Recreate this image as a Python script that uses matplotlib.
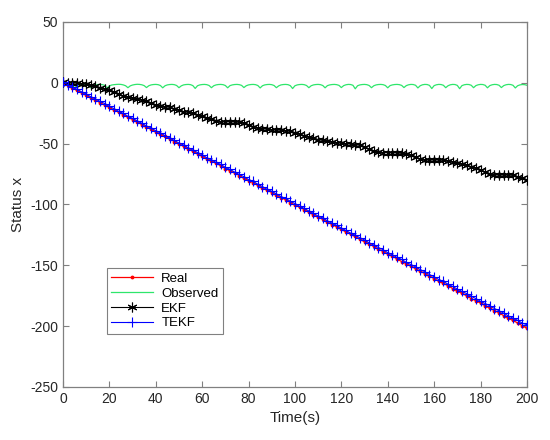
import matplotlib
matplotlib.use("Agg")
import matplotlib.pyplot as plt

plt.rcParams['font.family'] = ['Liberation Sans', 'DejaVu Sans']
plt.rcParams['axes.unicode_minus'] = False

# time axis (coarse series every 2 s, observed every 1 s)
t = list(range(0, 201, 2))
t_obs = list(range(0, 201))

real = [
    0, -2.1, -4.3, -6.2, -8.0, -10.3, -12.2, -14.1, -16.4, -18.2,
    -20.1, -22.4, -24.2, -26.1, -28.3, -30.2, -32.0, -34.4, -36.3, -38.1,
    -40.2, -42.4, -44.1, -46.0, -48.3, -50.4, -52.2, -54.1, -56.3, -58.2,
    -60.1, -62.4, -64.3, -66.1, -68.2, -70.5, -72.3, -74.1, -76.2, -78.4,
    -80.3, -82.1, -84.2, -86.5, -88.3, -90.2, -92.4, -94.3, -96.1, -98.4,
    -100.5, -102.3, -104.2, -106.4, -108.6, -110.4, -112.2, -114.5, -116.6, -118.3,
    -120.4, -122.7, -124.5, -126.3, -128.6, -130.7, -132.5, -134.4, -136.7, -138.8,
    -140.6, -142.5, -144.8, -146.9, -148.7, -150.6, -152.9, -155.0, -156.8, -158.7,
    -161.0, -163.1, -164.9, -166.8, -169.1, -171.2, -173.0, -175.1, -177.3, -179.1,
    -181.0, -183.3, -185.4, -187.2, -189.1, -191.4, -193.5, -195.3, -197.4, -199.6,
    -201.7,
]

tekf = [
    0.5, -1.4, -3.6, -5.3, -7.4, -9.1, -11.5, -13.2, -15.3, -17.0,
    -19.4, -21.2, -23.5, -25.0, -27.6, -29.1, -31.3, -33.2, -35.5, -37.0,
    -39.4, -41.1, -43.5, -45.2, -47.3, -49.5, -51.1, -53.4, -55.2, -57.3,
    -59.0, -61.6, -63.2, -65.4, -67.0, -69.5, -71.1, -73.4, -75.3, -77.1,
    -79.5, -81.0, -83.4, -85.3, -87.5, -89.1, -91.3, -93.5, -95.0, -97.4,
    -99.2, -101.5, -103.1, -105.4, -107.2, -109.6, -111.0, -113.5, -115.3, -117.1,
    -119.5, -121.3, -123.6, -125.2, -127.4, -129.1, -131.6, -133.3, -135.4, -137.2,
    -139.6, -141.3, -143.5, -145.1, -147.6, -149.4, -151.2, -153.5, -155.3, -157.6,
    -159.4, -161.7, -163.2, -165.5, -167.3, -169.6, -171.4, -173.2, -175.5, -177.3,
    -179.6, -181.4, -183.2, -185.5, -187.4, -189.3, -191.6, -193.4, -195.2, -197.5,
    -198.8,
]

ekf = [
    0.5, 0.2, -0.3, -0.2, -0.6, -1.2, -2.0, -2.8, -3.9, -5.0,
    -5.8, -7.4, -9.0, -10.8, -12.0, -12.6, -13.0, -13.8, -15.2, -16.9,
    -18.2, -19.0, -19.6, -20.2, -21.2, -22.5, -23.6, -24.3, -25.0, -26.2,
    -27.5, -28.6, -29.8, -31.0, -31.8, -32.1, -32.0, -32.2, -32.4, -33.0,
    -34.4, -35.9, -37.0, -37.7, -38.2, -38.5, -38.8, -39.0, -39.3, -39.9,
    -40.9, -42.2, -43.4, -44.3, -45.6, -46.6, -47.4, -48.1, -48.6, -49.2,
    -49.6, -50.0, -50.4, -50.8, -51.4, -53.0, -54.6, -56.0, -57.0, -57.3,
    -57.3, -57.4, -57.6, -58.0, -58.7, -59.7, -61.2, -62.6, -63.3, -63.5,
    -63.4, -63.5, -63.6, -64.0, -64.8, -65.8, -66.8, -67.8, -68.9, -70.2,
    -71.6, -73.2, -74.6, -75.6, -75.9, -75.8, -75.8, -76.1, -77.0, -78.4,
    -79.8,
]

observed = [
    0, -0.8, -1.5, -1.9, -2.6, -4.0,
    -2.4, -1.7, -1.4, -1.3, -1.5, -2.2, -4.1,
    -2.3, -1.7, -1.4, -1.3, -1.5, -2.1, -4.2,
    -2.5, -1.8, -1.5, -1.3, -1.2, -1.3, -1.7, -2.4, -4.0,
    -2.5, -1.8, -1.4, -1.2, -1.3, -1.6, -2.3, -3.9,
    -2.4, -1.7, -1.4, -1.3, -1.5, -2.2, -4.1,
    -2.4, -1.7, -1.4, -1.3, -1.5, -2.2, -4.0,
    -2.5, -1.7, -1.4, -1.3, -1.5, -2.3, -4.6,
    -2.4, -1.7, -1.4, -1.3, -1.5, -2.2, -4.0,
    -2.4, -1.7, -1.4, -1.3, -1.5, -2.2, -4.1,
    -2.3, -1.7, -1.4, -1.3, -1.5, -2.1, -3.9,
    -2.4, -1.7, -1.4, -1.3, -1.5, -2.2, -4.2,
    -2.4, -1.7, -1.4, -1.3, -1.5, -2.2, -4.0,
    -2.5, -1.7, -1.4, -1.3, -1.5, -2.3, -4.7,
    -2.4, -1.7, -1.4, -1.3, -1.5, -2.2, -4.0,
    -2.4, -1.7, -1.4, -1.3, -1.5, -2.2, -4.1,
    -2.3, -1.7, -1.4, -1.3, -1.5, -2.1, -3.9,
    -2.3, -1.6, -1.3, -1.4, -2.0, -4.9,
    -2.4, -1.7, -1.4, -1.3, -1.5, -2.2, -4.0,
    -2.4, -1.7, -1.4, -1.3, -1.5, -2.2, -4.1,
    -2.3, -1.7, -1.4, -1.3, -1.5, -2.1, -3.9,
    -2.3, -1.6, -1.3, -1.4, -2.0, -4.2,
    -2.4, -1.6, -1.3, -1.4, -2.1, -4.7,
    -2.3, -1.6, -1.3, -1.4, -2.0, -4.0,
    -2.4, -1.6, -1.3, -1.4, -2.1, -4.8,
    -2.3, -1.6, -1.3, -1.4, -2.0, -4.0,
    -2.3, -1.6, -1.3, -1.4, -2.0, -4.1,
    -2.3, -1.6, -1.3, -1.4, -2.0, -3.9,
    -2.3, -1.6, -1.3, -1.4, -2.0, -4.2,
    -2.4, -1.7, -1.4, -1.5, -2.0,
]

labels = ['Real', 'Observed', 'EKF', 'TEKF']
yticks = [50, 0, -50, -100, -150, -200, -250]
xticks = list(range(0, 201, 20))

fig = plt.figure(figsize=(5.5, 4.4), dpi=100)
ax = fig.add_axes([0.1145, 0.1205, 0.8435, 0.8295])

asterisk = (6, 2, 0)
ax.plot(t, real, color='red', lw=0.9, marker='.', ms=3.5, label=labels[0], zorder=2)
ax.plot(t_obs, observed, color='#2ee66b', lw=0.9, label=labels[1], zorder=1)
ax.plot(t, ekf, color='black', lw=0.8, marker=asterisk, ms=7, mew=0.8, label=labels[2], zorder=3)
ax.plot(t, tekf, color='blue', lw=0.8, marker='+', ms=7, mew=0.8, label=labels[3], zorder=4)

ax.set_xlim(0, 200)
ax.set_ylim(-250, 50)
ax.set_xticks(xticks)
ax.set_yticks(yticks)
ax.tick_params(direction='in', length=4, width=0.8, colors='#808080',
               labelcolor='#262626', labelsize=10, top=True, right=True)
for s in ax.spines.values():
    s.set_color('#808080')
    s.set_linewidth(0.9)

ax.set_xlabel('Time(s)', fontsize=11, color='#262626')
ax.set_ylabel('Status x', fontsize=11, color='#262626')

leg = ax.legend(loc='lower left', bbox_to_anchor=(0.094, 0.145), fontsize=9.5,
                handlelength=3.2, labelspacing=0.2, borderpad=0.35,
                handletextpad=0.6, borderaxespad=0,
                fancybox=False, framealpha=1, edgecolor='#808080')
leg.get_frame().set_linewidth(0.8)

fig.savefig('out.png', dpi=100)
